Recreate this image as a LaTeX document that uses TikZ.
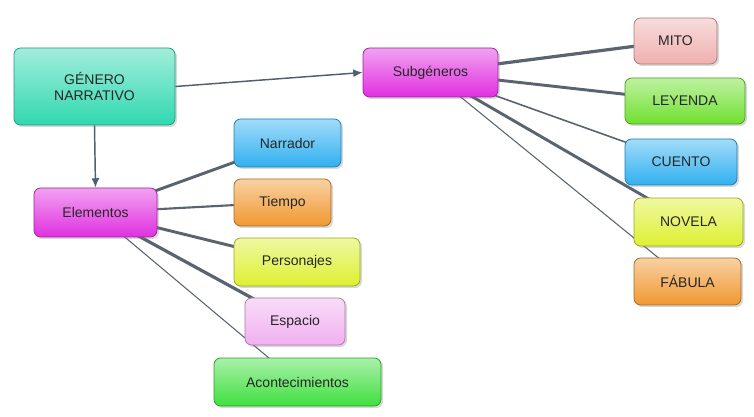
\documentclass[tikz,border=0pt]{standalone}
\usepackage{fontspec}
\setmainfont{Liberation Sans}
\usetikzlibrary{shadows,backgrounds}
\definecolor{lnk}{HTML}{5A6470}
\definecolor{arr}{HTML}{4E6070}
\tikzset{
  box/.style={rounded corners=5pt, draw=#1!70!black, line width=0.6pt, top color=#1!45!white, bottom color=#1, drop shadow={opacity=0.3,shadow xshift=1.5pt,shadow yshift=-1.5pt}, font=\fontsize{10.5}{12.5}\selectfont, text=black!85, align=center, inner sep=2pt},
  lk/.style={draw=lnk, line width=#1},
  ar/.style={draw=arr, line width=1.1pt, -{Latex[length=7pt,width=6pt]}}
}
\usetikzlibrary{arrows.meta}
\definecolor{cteal}{HTML}{30D8B0}
\definecolor{cmag}{HTML}{E030E0}
\definecolor{cblue}{HTML}{30B0F0}
\definecolor{corange}{HTML}{F09830}
\definecolor{cyel}{HTML}{DDF030}
\definecolor{cpink}{HTML}{F0B0F0}
\definecolor{cgreen}{HTML}{40E040}
\definecolor{crose}{HTML}{F0B0B0}
\definecolor{clime}{HTML}{70E030}
\begin{document}
\begin{tikzpicture}[x=0.75pt,y=-0.75pt]
\useasboundingbox (0,0) rectangle (754,417);
\node[box=cteal, minimum width=120.75pt, minimum height=57.75pt] (gen) at (94.5,86.5) {GÉNERO\\NARRATIVO};
\node[box=cmag, minimum width=101.25pt, minimum height=36.75pt] (sub) at (430.5,72.5) {Subgéneros};
\node[box=cmag, minimum width=92.25pt, minimum height=36.75pt] (ele) at (95.5,212.5) {Elementos};
\node[box=cblue, minimum width=80.25pt, minimum height=36pt] (nar) at (287.5,143) {Narrador};
\node[box=corange, minimum width=72.75pt, minimum height=35.25pt] (tie) at (282.5,202.5) {Tiempo};
\node[box=cyel, minimum width=94.5pt, minimum height=36pt] (per) at (297,262) {Personajes};
\node[box=cpink, minimum width=75pt, minimum height=35.25pt] (esp) at (295,321.5) {Espacio};
\node[box=cgreen, minimum width=125.25pt, minimum height=36pt] (aco) at (297.5,382) {Acontecimientos};
\node[box=crose, minimum width=62.25pt, minimum height=34.5pt] (mit) at (675.5,41) {MITO};
\node[box=clime, minimum width=90pt, minimum height=34.5pt] (ley) at (685,101) {LEYENDA};
\node[box=cblue, minimum width=84pt, minimum height=34.5pt] (cue) at (681,162) {CUENTO};
\node[box=cyel, minimum width=81.75pt, minimum height=36pt] (nov) at (688.5,222) {NOVELA};
\node[box=corange, minimum width=80.25pt, minimum height=35.25pt] (fab) at (687.5,281.5) {FÁBULA};
\begin{scope}[on background layer]
\draw[lk=2.2pt] (ele.center) -- (nar.center);
\draw[lk=1.6pt] (ele.center) -- (tie.center);
\draw[lk=2.2pt] (ele.center) -- (per.center);
\draw[lk=2.4pt] (ele.center) -- (esp.center);
\draw[lk=0.8pt] (ele.center) -- (aco.center);
\draw[lk=2.4pt] (sub.center) -- (mit.center);
\draw[lk=2.2pt] (sub.center) -- (ley.center);
\draw[lk=1.2pt] (sub.center) -- (cue.center);
\draw[lk=2.2pt] (sub.center) -- (nov.center);
\draw[lk=0.8pt] (sub.center) -- (fab.center);
\end{scope}
\draw[ar] (gen.east) -- (sub.west);
\draw[ar] (gen.south) -- (ele.north);
\end{tikzpicture}
\end{document}
